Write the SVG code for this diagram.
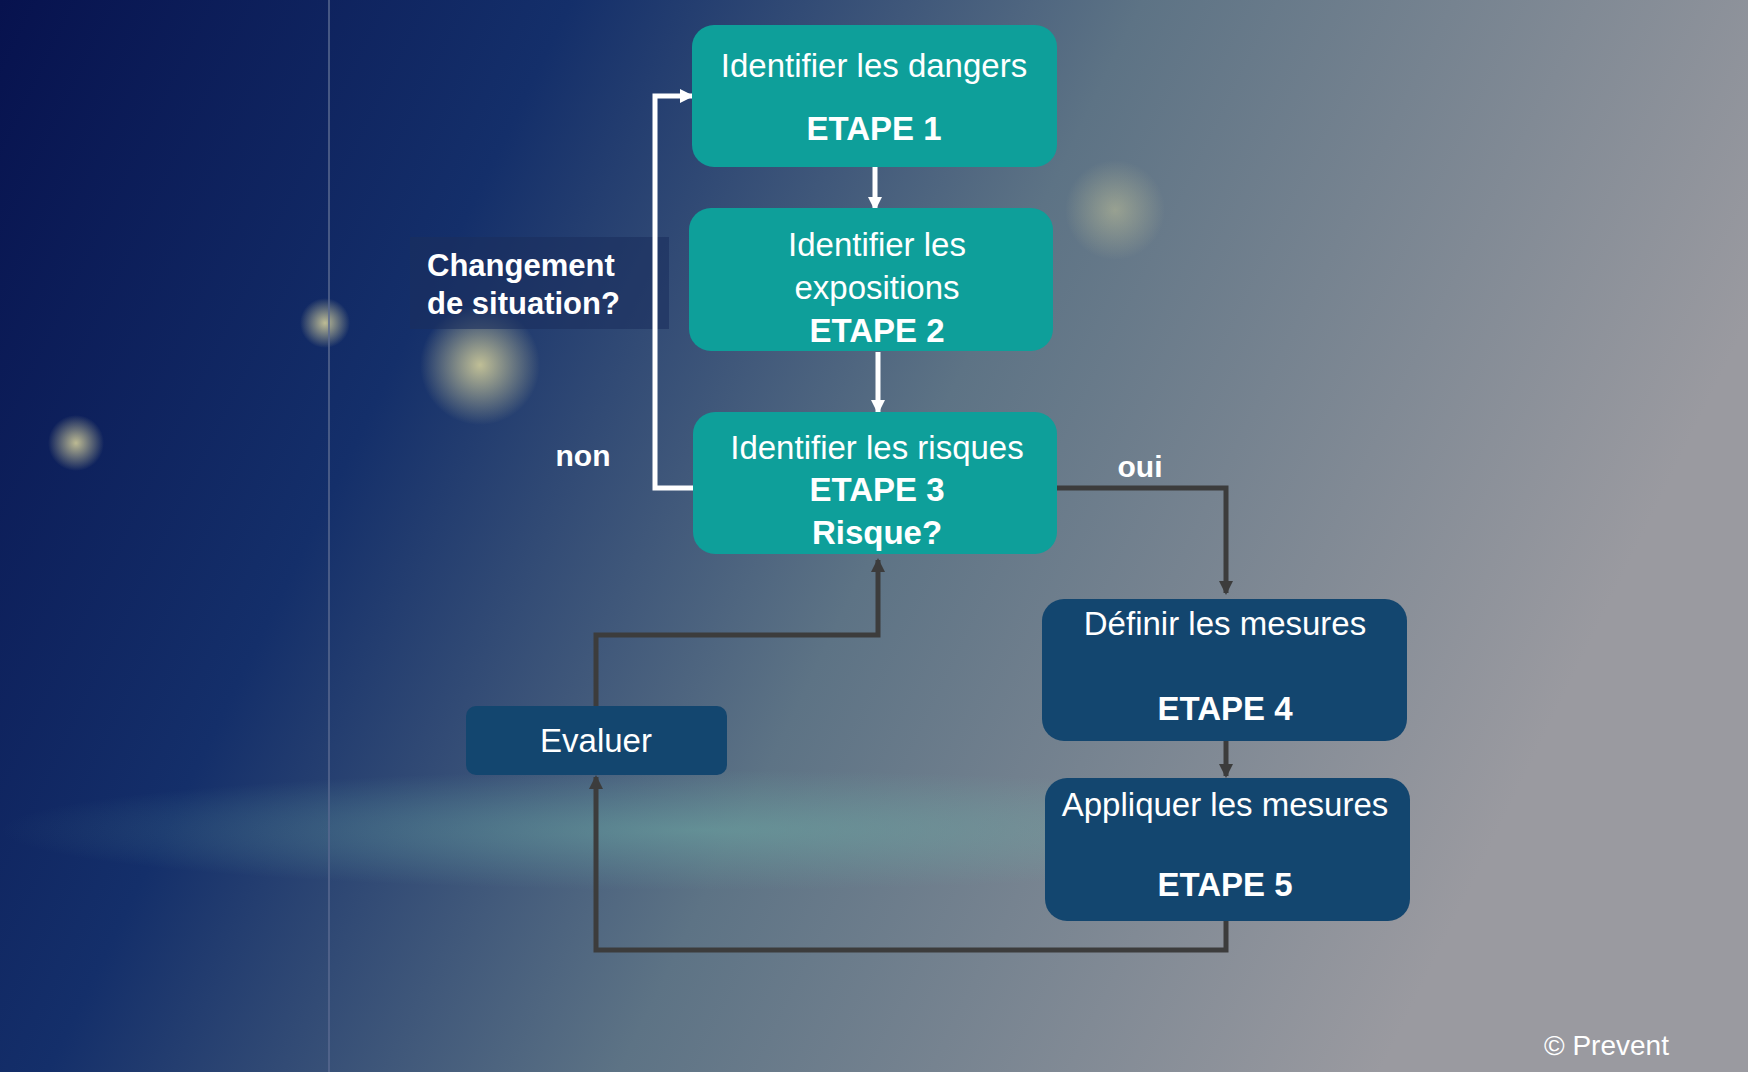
<svg xmlns="http://www.w3.org/2000/svg" width="1748" height="1072" viewBox="0 0 1748 1072">
<defs>
<linearGradient id="bg" x1="0" y1="0" x2="1" y2="0.3">
<stop offset="0" stop-color="#07124e"/>
<stop offset="0.3" stop-color="#142f6a"/>
<stop offset="0.6" stop-color="#5d7385"/>
<stop offset="1" stop-color="#9a9aa0"/>
</linearGradient>
<radialGradient id="glow" cx="0.5" cy="0.5" r="0.5">
<stop offset="0" stop-color="#6fb0a8" stop-opacity="0.5"/>
<stop offset="1" stop-color="#6fb0a8" stop-opacity="0"/>
</radialGradient>
<radialGradient id="dot" cx="0.5" cy="0.5" r="0.5">
<stop offset="0" stop-color="#e8e0a0" stop-opacity="0.8"/>
<stop offset="1" stop-color="#e8e0a0" stop-opacity="0"/>
</radialGradient>
<marker id="aw" markerWidth="16" markerHeight="16" refX="12" refY="8" orient="auto" markerUnits="userSpaceOnUse"><path d="M0,1 L14,8 L0,15 z" fill="#fff"/></marker>
<marker id="ad" markerWidth="16" markerHeight="16" refX="12" refY="8" orient="auto" markerUnits="userSpaceOnUse"><path d="M0,1 L14,8 L0,15 z" fill="#3c3c3c"/></marker>
</defs>
<style>
.t{fill:#0e9f9a}.d{fill:#13466f}
text{font-family:"Liberation Sans",Arial,sans-serif;fill:#fff;font-size:33px;text-anchor:middle}
.b{font-weight:bold}
.w{stroke:#fff;stroke-width:5;fill:none}
.k{stroke:#3c3c3c;stroke-width:5;fill:none}
</style>
<rect width="1748" height="1072" fill="url(#bg)"/>
<ellipse cx="700" cy="830" rx="700" ry="60" fill="url(#glow)"/>
<circle cx="480" cy="365" r="60" fill="url(#dot)"/>
<circle cx="325" cy="323" r="25" fill="url(#dot)"/>
<circle cx="76" cy="443" r="28" fill="url(#dot)"/>
<circle cx="1115" cy="210" r="50" fill="url(#dot)" opacity="0.5"/>
<line x1="329" y1="0" x2="329" y2="1072" stroke="#5a6a90" stroke-width="1.5"/>
<g id="label-changement"><rect x="410" y="237" width="259" height="92" fill="#1a2f5e" opacity="0.6"/>
<text class="b" x="427" y="276" style="text-anchor:start;font-size:31px">Changement</text>
<text class="b" x="427" y="314" style="text-anchor:start;font-size:31px">de situation?</text></g>
<g id="connectors">
<path class="w" d="M875,167 V209" marker-end="url(#aw)"/>
<path class="w" d="M878,352 V412" marker-end="url(#aw)"/>
<path class="w" d="M693,488 H655 V96 H692" marker-end="url(#aw)"/>
<path class="k" d="M1057,488 H1226 V593" marker-end="url(#ad)"/>
<path class="k" d="M1226,741 V776" marker-end="url(#ad)"/>
<path class="k" d="M1226,921 V950 H596 V777" marker-end="url(#ad)"/>
<path class="k" d="M596,706 V635 H878 V560" marker-end="url(#ad)"/>
<text class="b" x="583" y="466" style="font-size:30px">non</text>
<text class="b" x="1140" y="477" style="font-size:30px">oui</text>
</g>
<g id="n1"><rect class="t" x="692" y="25" width="365" height="142" rx="22"/>
<text x="874" y="77">Identifier les dangers</text><text class="b" x="874" y="140">ETAPE 1</text></g>
<g id="n2"><rect class="t" x="689" y="208" width="364" height="143" rx="22"/>
<text x="877" y="256">Identifier les</text><text x="877" y="299">expositions</text><text class="b" x="877" y="342">ETAPE 2</text></g>
<g id="n3"><rect class="t" x="693" y="412" width="364" height="142" rx="22"/>
<text x="877" y="459">Identifier les risques</text><text class="b" x="877" y="501">ETAPE 3</text><text class="b" x="877" y="544">Risque?</text></g>
<g id="n4"><rect class="d" x="1042" y="599" width="365" height="142" rx="22"/>
<text x="1225" y="635">Définir les mesures</text><text class="b" x="1225" y="720">ETAPE 4</text></g>
<g id="n5"><rect class="d" x="1045" y="778" width="365" height="143" rx="22"/>
<text x="1225" y="816">Appliquer les mesures</text><text class="b" x="1225" y="896">ETAPE 5</text></g>
<g id="evaluer"><rect class="d" x="466" y="706" width="261" height="69" rx="10"/>
<text x="596" y="752">Evaluer</text></g>
<text x="1544" y="1055" style="text-anchor:start;font-size:28px">© Prevent</text>
</svg>
